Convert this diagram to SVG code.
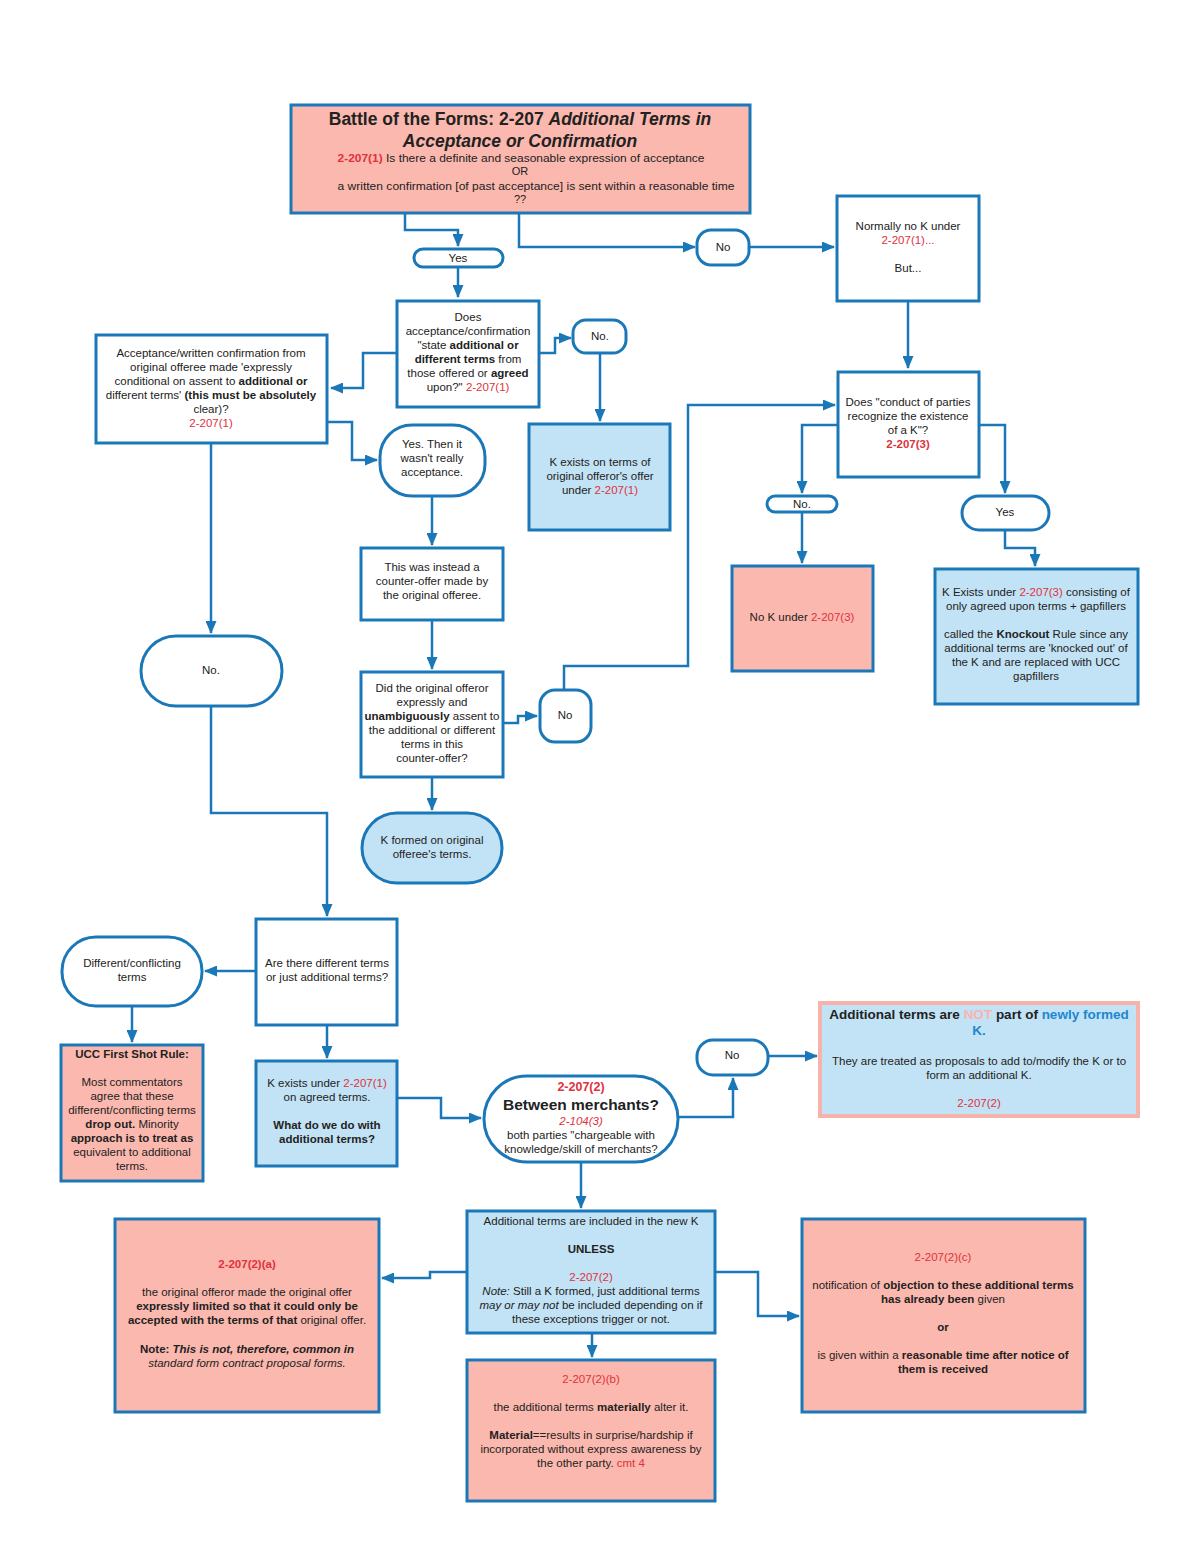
<svg xmlns="http://www.w3.org/2000/svg" width="1200" height="1553" viewBox="0 0 1200 1553">
<defs>
<marker id="ah" markerUnits="userSpaceOnUse" markerWidth="13" markerHeight="11" refX="12" refY="5.5" orient="auto"><path d="M0,0 L13,5.5 L0,11 z" fill="#1b78b8"/></marker>
<style>
.n{stroke:#1b78b8;stroke-width:3;fill:#fff}
.p{fill:#fbb8ae}
.b{fill:#c2e2f5}
.c{fill:none;stroke:#1b78b8;stroke-width:2.5;marker-end:url(#ah)}
text{font-family:"Liberation Sans",Arial,sans-serif;font-size:11.5px;fill:#222;text-anchor:middle}
.r{fill:#e0323c}
.bl{fill:#1b88d0}
.bo{font-weight:bold}
.it{font-style:italic}
</style>
</defs>
<rect width="1200" height="1553" fill="#fff"/>

<g id="connectors">
<polyline class="c" points="405,213 405,230 458,230 458,246"/>
<polyline class="c" points="519,213 519,247 695,247"/>
<polyline class="c" points="749,247 834,247"/>
<polyline class="c" points="458,267 458,297"/>
<polyline class="c" points="908,301 908,368"/>
<polyline class="c" points="539,353 555,353 555,338 571,338"/>
<polyline class="c" points="600,353 600,421"/>
<polyline class="c" points="397,353 363,353 363,388 331,388"/>
<polyline class="c" points="327,422 352,422 352,460 377,460"/>
<polyline class="c" points="432,496 432,545"/>
<polyline class="c" points="432,620 432,669"/>
<polyline class="c" points="503,723 518,723 518,716 537,716"/>
<polyline class="c" points="564,690 564,666 688,666 688,405 835,405"/>
<polyline class="c" points="432,777 432,810"/>
<polyline class="c" points="838,425 802,425 802,493"/>
<polyline class="c" points="802,512 802,563"/>
<polyline class="c" points="979,425 1005,425 1005,493"/>
<polyline class="c" points="1005,530 1005,548 1035,548 1035,566"/>
<polyline class="c" points="211,443 211,633"/>
<polyline class="c" points="211,706 211,813 327,813 327,916"/>
<polyline class="c" points="256,971 205,971"/>
<polyline class="c" points="132,1006 132,1042"/>
<polyline class="c" points="327,1025 327,1058"/>
<polyline class="c" points="397,1098 441,1098 441,1118 481,1118"/>
<polyline class="c" points="678,1117 733,1117 733,1078"/>
<polyline class="c" points="768,1056 817,1056"/>
<polyline class="c" points="581,1162 581,1208"/>
<polyline class="c" points="467,1272 430,1272 430,1278 382,1278"/>
<polyline class="c" points="715,1272 758,1272 758,1316 799,1316"/>
<polyline class="c" points="592,1333 592,1357"/>
</g>

<g id="title">
<rect class="n p" x="291" y="105" width="459" height="108"/>
<text x="520" y="125" style="font-size:17.5px;font-weight:bold">Battle of the Forms: 2-207 <tspan class="it">Additional Terms in</tspan></text>
<text x="520" y="147" class="bo it" style="font-size:17.5px">Acceptance or Confirmation</text>
<text x="521" y="162" style="font-size:11px" textLength="367" lengthAdjust="spacingAndGlyphs"><tspan class="r bo">2-207(1)</tspan> Is there a definite and seasonable  expression  of acceptance</text>
<text x="520" y="175" style="font-size:11px">OR</text>
<text x="536" y="190" style="font-size:11px" textLength="397" lengthAdjust="spacingAndGlyphs">a written  confirmation  [of past acceptance]  is sent  within a reasonable time</text>
<text x="520" y="203" style="font-size:11px">??</text>
</g>

<g id="yes1"><rect class="n" x="414" y="249" width="89" height="18" rx="9"/><text x="458" y="262">Yes</text></g>
<g id="no1"><rect class="n" x="697" y="230" width="52" height="35" rx="14"/><text x="723" y="251">No</text></g>

<g id="normally">
<rect class="n" x="837" y="196" width="142" height="105"/>
<text x="908" y="230">Normally no K under</text>
<text x="908" y="244" class="r">2-207(1)...</text>
<text x="908" y="272">But...</text>
</g>

<g id="doesAcceptance">
<rect class="n" x="397" y="301" width="142" height="106"/>
<text x="468" y="321">Does</text>
<text x="468" y="335">acceptance/confirmation</text>
<text x="468" y="349">"state <tspan class="bo">additional or</tspan></text>
<text x="468" y="363"><tspan class="bo">different terms</tspan> from</text>
<text x="468" y="377">those offered or <tspan class="bo">agreed</tspan></text>
<text x="468" y="391">upon?" <tspan class="r">2-207(1)</tspan></text>
</g>

<g id="no2"><rect class="n" x="573" y="320" width="53" height="33" rx="13"/><text x="600" y="340">No.</text></g>

<g id="kExistsOfferor">
<rect class="n b" x="529" y="424" width="141" height="106"/>
<text x="600" y="466">K exists on terms of</text>
<text x="600" y="480">original offeror's offer</text>
<text x="600" y="494">under <tspan class="r">2-207(1)</tspan></text>
</g>

<g id="acceptanceExpressly">
<rect class="n" x="96" y="335" width="231" height="108"/>
<text x="211" y="357">Acceptance/written confirmation from</text>
<text x="211" y="371">original offeree made 'expressly</text>
<text x="211" y="385">conditional on assent to <tspan class="bo">additional or</tspan></text>
<text x="211" y="399">different terms' <tspan class="bo">(this must be absolutely</tspan></text>
<text x="211" y="413">clear)?</text>
<text x="211" y="427" class="r">2-207(1)</text>
</g>

<g id="yesThen">
<rect class="n" x="380" y="425" width="105" height="71" rx="32"/>
<text x="432" y="448">Yes. Then it</text>
<text x="432" y="462">wasn't really</text>
<text x="432" y="476">acceptance.</text>
</g>

<g id="counterOffer">
<rect class="n" x="361" y="548" width="142" height="72"/>
<text x="432" y="571">This was instead a</text>
<text x="432" y="585">counter-offer made by</text>
<text x="432" y="599">the original offeree.</text>
</g>

<g id="didOfferor">
<rect class="n" x="361" y="672" width="142" height="105"/>
<text x="432" y="692">Did the original offeror</text>
<text x="432" y="706">expressly and</text>
<text x="432" y="720"><tspan class="bo">unambiguously</tspan> assent to</text>
<text x="432" y="734">the additional or different</text>
<text x="432" y="748">terms in this</text>
<text x="432" y="762">counter-offer?</text>
</g>

<g id="no3"><rect class="n" x="540" y="690" width="51" height="52" rx="15"/><text x="565" y="719">No</text></g>

<g id="kFormedOfferee">
<rect class="n b" x="362" y="813" width="140" height="70" rx="35"/>
<text x="432" y="844">K formed on original</text>
<text x="432" y="858">offeree's terms.</text>
</g>

<g id="conduct">
<rect class="n" x="838" y="372" width="141" height="105"/>
<text x="908" y="406">Does "conduct of parties</text>
<text x="908" y="420">recognize the existence</text>
<text x="908" y="434">of a K"?</text>
<text x="908" y="448" class="r bo">2-207(3)</text>
</g>

<g id="no4"><rect class="n" x="767" y="496" width="70" height="16" rx="8"/><text x="802" y="508">No.</text></g>

<g id="noK3">
<rect class="n p" x="732" y="566" width="141" height="105"/>
<text x="802" y="621">No K under <tspan class="r">2-207(3)</tspan></text>
</g>

<g id="yes2"><rect class="n" x="962" y="496" width="87" height="34" rx="17"/><text x="1005" y="516">Yes</text></g>

<g id="knockout">
<rect class="n b" x="935" y="569" width="203" height="135"/>
<text x="1036" y="596">K Exists under <tspan class="r">2-207(3)</tspan> consisting of</text>
<text x="1036" y="610">only agreed upon terms + gapfillers</text>
<text x="1036" y="638">called the <tspan class="bo">Knockout</tspan> Rule since any</text>
<text x="1036" y="652">additional terms are 'knocked out' of</text>
<text x="1036" y="666">the K and are replaced with UCC</text>
<text x="1036" y="680">gapfillers</text>
</g>

<g id="no5"><rect class="n" x="141" y="636" width="141" height="70" rx="35"/><text x="211" y="674">No.</text></g>

<g id="areThere">
<rect class="n" x="256" y="919" width="141" height="106"/>
<text x="327" y="967">Are there different terms</text>
<text x="327" y="981">or just additional terms?</text>
</g>

<g id="different">
<rect class="n" x="62" y="937" width="140" height="69" rx="34"/>
<text x="132" y="967">Different/conflicting</text>
<text x="132" y="981">terms</text>
</g>

<g id="firstShot">
<rect class="n p" x="61" y="1045" width="142" height="136"/>
<text x="132" y="1058" class="bo">UCC First Shot Rule:</text>
<text x="132" y="1086">Most commentators</text>
<text x="132" y="1100">agree that these</text>
<text x="132" y="1114">different/conflicting terms</text>
<text x="132" y="1128"><tspan class="bo">drop out.</tspan> Minority</text>
<text x="132" y="1142" class="bo">approach is to treat as</text>
<text x="132" y="1156">equivalent to additional</text>
<text x="132" y="1170">terms.</text>
</g>

<g id="kExistsAgreed">
<rect class="n b" x="256" y="1061" width="141" height="105"/>
<text x="327" y="1087">K exists under <tspan class="r">2-207(1)</tspan></text>
<text x="327" y="1101">on agreed terms.</text>
<text x="327" y="1129" class="bo">What do we do with</text>
<text x="327" y="1143" class="bo">additional terms?</text>
</g>

<g id="merchants">
<rect class="n" x="484" y="1076" width="194" height="86" rx="43"/>
<text x="581" y="1091" class="r bo" style="font-size:12.5px">2-207(2)</text>
<text x="581" y="1110" class="bo" style="font-size:15.5px">Between merchants?</text>
<text x="581" y="1125" class="r it">2-104(3)</text>
<text x="581" y="1139">both parties "chargeable with</text>
<text x="581" y="1153">knowledge/skill of merchants?</text>
</g>

<g id="no6"><rect class="n" x="697" y="1040" width="71" height="35" rx="16"/><text x="732" y="1059">No</text></g>

<g id="notPart">
<rect x="820" y="1003" width="318" height="113" fill="#c2e2f5" stroke="#f6b3ab" stroke-width="4"/>
<text x="979" y="1019" class="bo" style="font-size:13.5px">Additional terms are <tspan style="fill:#f8b4ac">NOT</tspan> part of <tspan class="bl">newly formed</tspan></text>
<text x="979" y="1035" class="bo bl" style="font-size:13.5px">K.</text>
<text x="979" y="1065">They are treated as proposals to add to/modify the K or to</text>
<text x="979" y="1079">form an additional K.</text>
<text x="979" y="1107" class="r">2-207(2)</text>
</g>

<g id="included">
<rect class="n b" x="467" y="1211" width="248" height="122"/>
<text x="591" y="1225">Additional terms are included in the new K</text>
<text x="591" y="1253" class="bo">UNLESS</text>
<text x="591" y="1281" class="r">2-207(2)</text>
<text x="591" y="1295"><tspan class="it">Note:</tspan> Still a K formed, just additional terms</text>
<text x="591" y="1309"><tspan class="it">may or may not</tspan> be included depending on if</text>
<text x="591" y="1323">these exceptions trigger or not.</text>
</g>

<g id="exceptionA">
<rect class="n p" x="115" y="1219" width="264" height="193"/>
<text x="247" y="1268" class="r bo">2-207(2)(a)</text>
<text x="247" y="1296">the original offeror made the original offer</text>
<text x="247" y="1310" class="bo">expressly limited so that it could only be</text>
<text x="247" y="1324"><tspan class="bo">accepted with the terms of that</tspan> original offer.</text>
<text x="247" y="1353"><tspan class="bo">Note:</tspan> <tspan class="it bo">This is not, therefore, common in</tspan></text>
<text x="247" y="1367" class="it">standard form contract proposal forms.</text>
</g>

<g id="exceptionC">
<rect class="n p" x="802" y="1219" width="283" height="193"/>
<text x="943" y="1261" class="r">2-207(2)(c)</text>
<text x="943" y="1289">notification of <tspan class="bo">objection to these additional terms</tspan></text>
<text x="943" y="1303"><tspan class="bo">has already been</tspan> given</text>
<text x="943" y="1331" class="bo">or</text>
<text x="943" y="1359">is given within a <tspan class="bo">reasonable time after notice of</tspan></text>
<text x="943" y="1373" class="bo">them is received</text>
</g>

<g id="exceptionB">
<rect class="n p" x="467" y="1360" width="248" height="141"/>
<text x="591" y="1383" class="r">2-207(2)(b)</text>
<text x="591" y="1411">the additional terms <tspan class="bo">materially</tspan> alter it.</text>
<text x="591" y="1439"><tspan class="bo">Material</tspan>==results in surprise/hardship if</text>
<text x="591" y="1453">incorporated without express awareness by</text>
<text x="591" y="1467">the other party. <tspan class="r">cmt 4</tspan></text>
</g>
</svg>
